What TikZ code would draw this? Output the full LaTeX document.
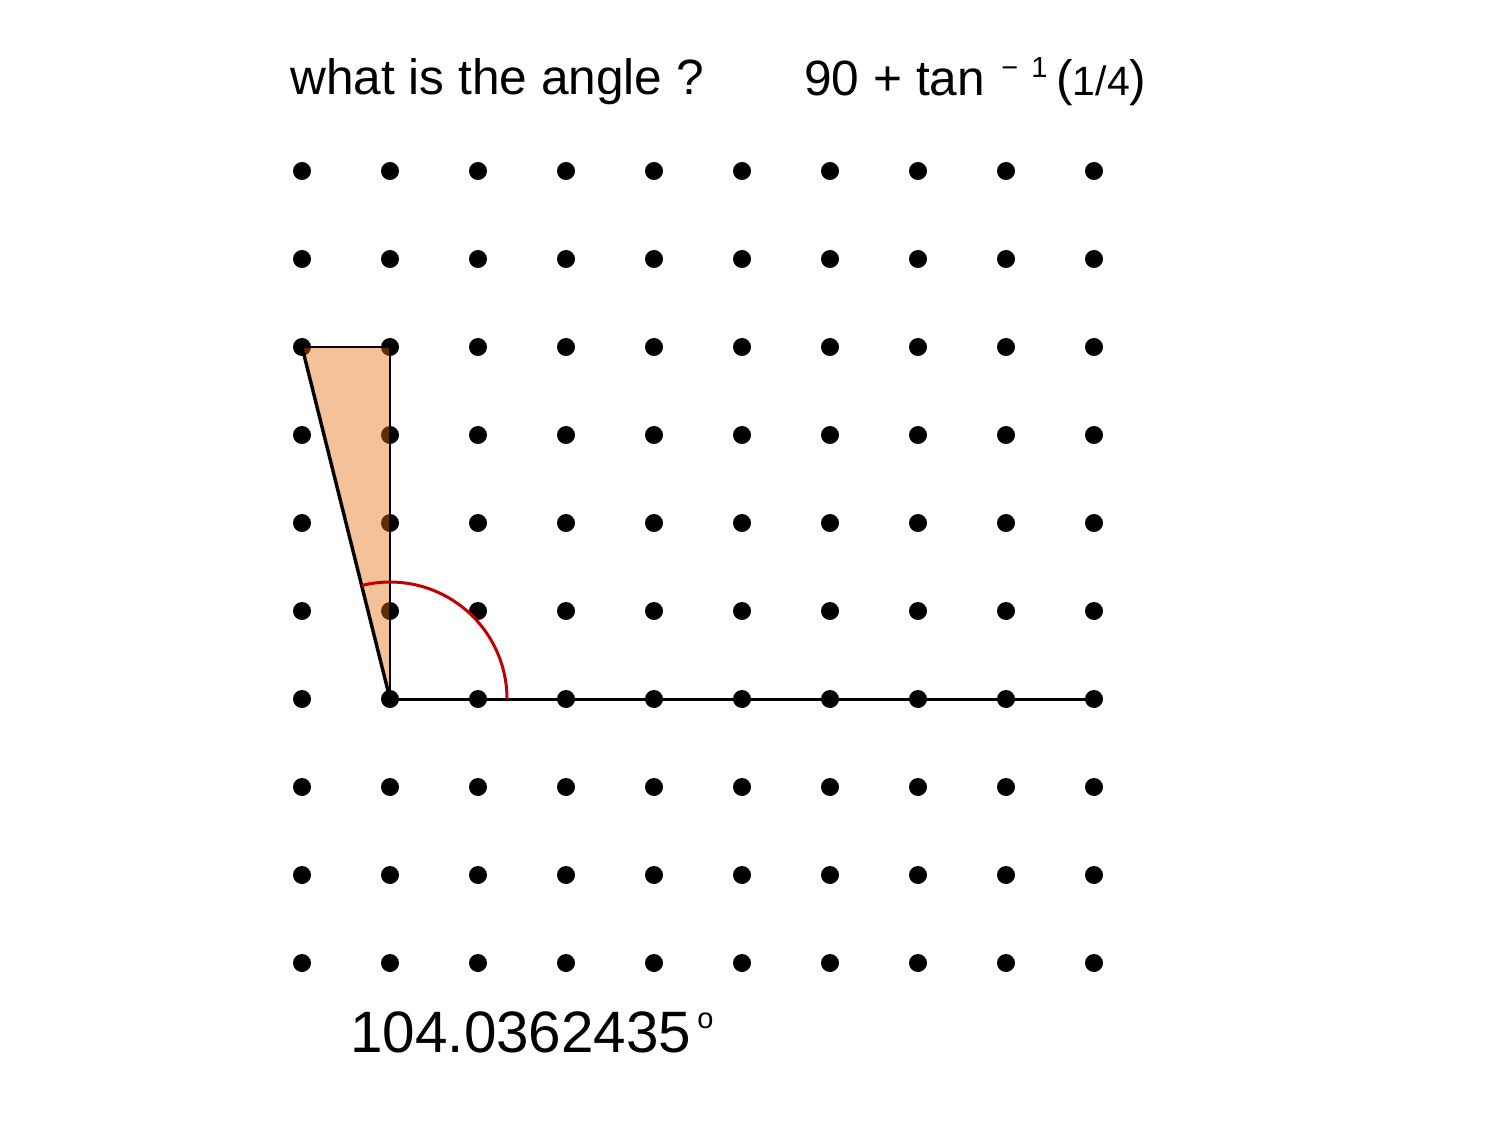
\documentclass[tikz,border=0pt]{standalone}
\usepackage{fontspec}
\setmainfont{Liberation Sans}
\definecolor{trifill}{RGB}{228,108,10}
\definecolor{arcred}{RGB}{192,0,0}
\begin{document}
\begin{tikzpicture}[x=0.5pt,y=-0.5pt,
  dot/.style={circle,fill=black,inner sep=0pt,minimum size=9pt},
  lbl/.style={anchor=base west,inner sep=0pt},
  big/.style={lbl,font=\fontsize{24.8}{28}\selectfont},
  tri/.style={fill=trifill,fill opacity=0.42},
  edge/.style={line width=1pt,black},
  heavy/.style={line width=1.7pt,black},
  angarc/.style={line width=1.5pt,arcred}]
\useasboundingbox (0,0) rectangle (1500,1144);
\foreach \i in {0,...,9}
  \foreach \j in {0,...,9}
    \node[dot] (d\i-\j) at ({302+88*\i},{171+88*\j}) {};
\fill[tri] (d0-2.center) -- (d1-2.center) -- (d1-6.center) -- cycle;
\draw[edge] (d0-2.center) -- (d1-2.center) -- (d1-6.center);
\draw[heavy] (d0-2.center) -- (d1-6.center);
\draw[line width=1.5pt] (d1-6.center) -- (d9-6.center);
\draw[angarc] ([shift={(58.5pt,0pt)}]d1-6.center) arc[start angle=0,end angle=104.04,radius=58.5pt];
\node[big] (q) at (290,95) {what is the angle ?};
\node[big] (f1) at (804,96) {90 + tan};
\node[lbl,font=\fontsize{14.5}{16}\selectfont] (f2) at (1001,78) {−\hspace{0.45em}1};
\node[big] (f3) at (1056,96) {(\fontsize{20.5}{24}\selectfont 1/4\fontsize{24.8}{28}\selectfont)};
\node[lbl,font=\fontsize{29.2}{34}\selectfont] (ans) at (350,1052) {104.0362435};
\node[lbl,font=\fontsize{14.5}{17}\selectfont] (deg) at (697,1028) {o};
\end{tikzpicture}
\end{document}
